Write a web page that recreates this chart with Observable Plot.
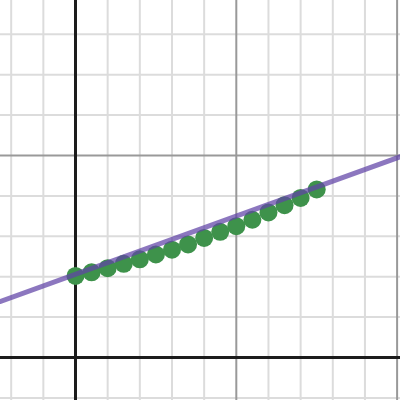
<!DOCTYPE html>
<html>
<head>
<meta charset="utf-8">
<script src="https://cdn.jsdelivr.net/npm/d3@7"></script>
<script src="https://cdn.jsdelivr.net/npm/@observablehq/plot@0.6"></script>
<style>
  html, body { margin: 0; padding: 0; background: #fff; }
  #chart svg { display: block; }
</style>
</head>
<body>
<div id="chart"></div>
<script>
// Data points (x, y)
const pointX = [0, 1, 2, 3, 4, 5, 6, 7, 8, 9, 10, 11, 12, 13, 14, 15];
const pointY = [2.02, 2.11, 2.21, 2.32, 2.43, 2.55, 2.67, 2.80, 2.96, 3.11, 3.25, 3.41, 3.59, 3.77, 3.95, 4.16];

// Fitted line parameters
const lineIntercept = 2.06;
const lineSlope = 0.144;

// Grid lines
const xMinorGrid = [-4, -2, 2, 4, 6, 8, 12, 14, 16, 18];
const xMajorGrid = [10, 20];
const yMinorGrid = [-1, 1, 2, 3, 4, 6, 7, 8];
const yMajorGrid = [5];
const axisZero = [0];

// Viewport
const xDomain = [-4.664, 20.211];
const yDomain = [-1.064, 8.837];

const points = pointX.map((x, i) => ({x, y: pointY[i]}));
const lineData = xDomain.map(x => ({x, y: lineIntercept + lineSlope * x}));

const chart = Plot.plot({
  width: 400,
  height: 400,
  margin: 0,
  x: {domain: xDomain, axis: null},
  y: {domain: yDomain, axis: null},
  style: {background: "#fff"},
  marks: [
    Plot.ruleX(xMinorGrid, {stroke: "#dcdcdc", strokeWidth: 2}),
    Plot.ruleY(yMinorGrid, {stroke: "#dcdcdc", strokeWidth: 2}),
    Plot.ruleX(xMajorGrid, {stroke: "#999", strokeWidth: 2}),
    Plot.ruleY(yMajorGrid, {stroke: "#999", strokeWidth: 2}),
    Plot.ruleX(axisZero, {stroke: "#1c1c1c", strokeWidth: 3}),
    Plot.ruleY(axisZero, {stroke: "#1c1c1c", strokeWidth: 3}),
    Plot.dot(points, {x: "x", y: "y", r: 9, fill: "#3e924b", stroke: "none"}),
    Plot.line(lineData, {x: "x", y: "y", stroke: "#6042a6", strokeOpacity: 0.72, strokeWidth: 5})
  ]
});
document.getElementById("chart").appendChild(chart);
</script>
</body>
</html>
